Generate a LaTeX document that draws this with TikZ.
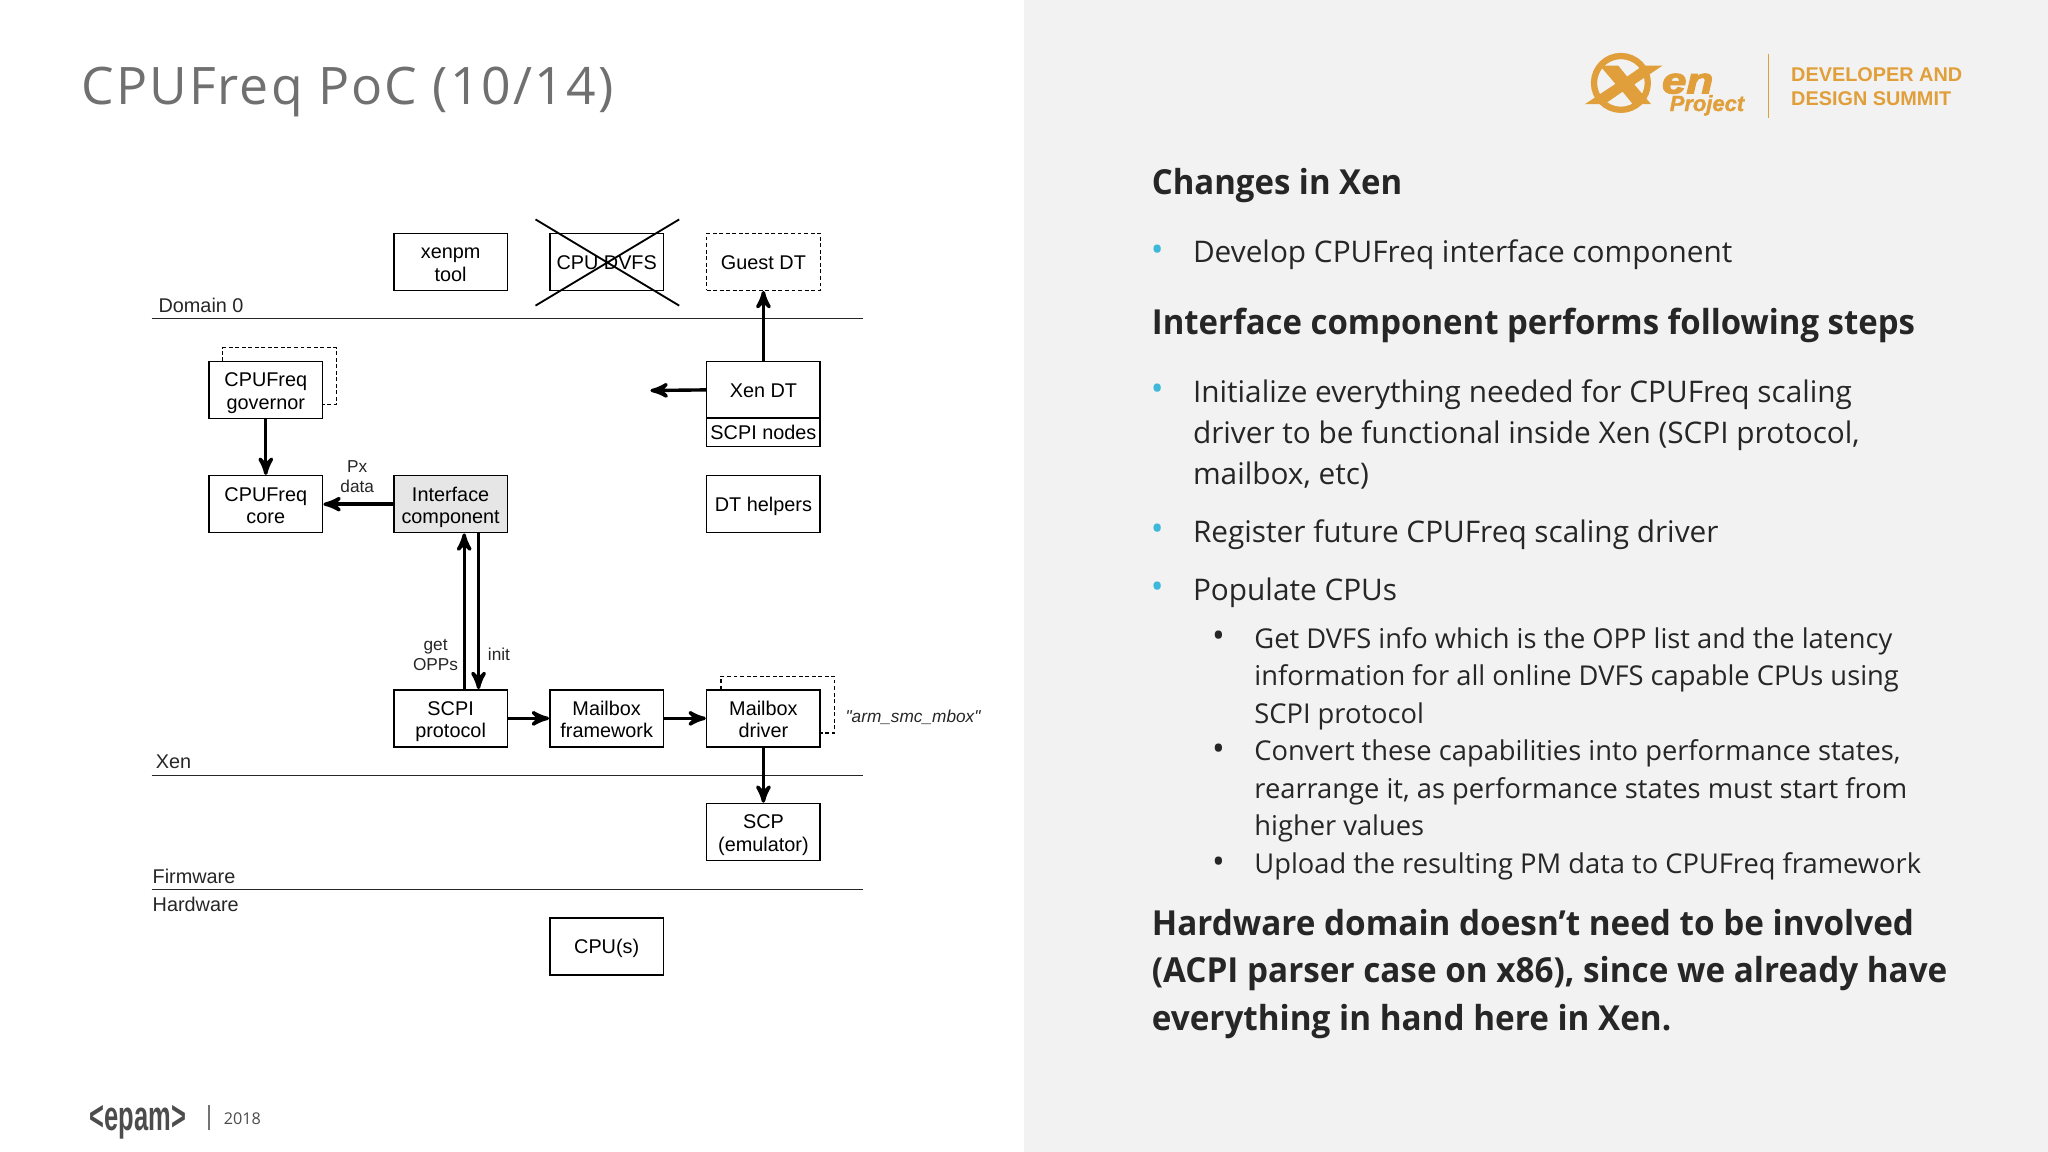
\documentclass[tikz,border=0pt]{standalone}
\usepackage{fontspec}
\setmainfont{Open Sans}
\newfontfamily\arialfont{Liberation Sans}
\usepackage{xcolor}
\usetikzlibrary{arrows}
\definecolor{panelbg}{HTML}{F3F2F2}
\definecolor{xenorange}{HTML}{E09F3A}
\definecolor{bulletblue}{HTML}{3DB8D8}
\definecolor{bodytext}{HTML}{262626}
\definecolor{ifacegray}{HTML}{E6E6E6}

\begin{document}
\begin{tikzpicture}[x=0.5pt,y=-0.5pt,
                    blk/.style={draw=black,fill=white,line width=0.6pt,
                    minimum width=43.5pt,minimum height=21.8pt,
                    inner sep=0pt,align=center,
                    text height=5.8pt,text depth=0pt,
                    font=\arialfont\fontsize{7.6}{8.6}\selectfont},
                    two/.style={text height=16.4pt,text depth=1.6pt},
                    dashblk/.style={blk,dash pattern=on 1.5pt off 1pt,line width=0.5pt},
                    arr/.style={-stealth',line width=1.3pt},
                    sep/.style={line width=0.5pt,draw=black!85},
                    lbl/.style={inner sep=0pt,anchor=base west,text=black!85,
                    font=\arialfont\fontsize{7.6}{8.6}\selectfont},
                    note/.style={inner sep=0pt,align=center,text=black!85,
                    font=\arialfont\fontsize{6.6}{7.6}\selectfont},
                    head/.style={inner sep=0pt,anchor=base west,text=bodytext,align=left,
                    xscale=0.955,transform shape,
                    font=\bfseries\fontsize{13.2}{18.25}\selectfont},
                    body/.style={inner sep=0pt,anchor=base west,text=bodytext,align=left,
                    font=\fontsize{11.4}{15.75}\selectfont},
                    sub/.style={inner sep=0pt,anchor=base west,text=bodytext,align=left,
                    font=\fontsize{10.45}{14.45}\selectfont},
                    dot/.style={inner sep=0pt,anchor=base,font=\fontsize{13}{14}\selectfont},
                    logotxt/.style={inner sep=0pt,text=xenorange,
                    font=\arialfont\bfseries\fontsize{7.6}{9}\selectfont}]
    \useasboundingbox (0,0) rectangle (1568,882);
    \fill[panelbg] (784,0) rectangle (1568,882);

    \node[inner sep=0pt,anchor=base west,text=black!56] (title) at (62,80)
        {\fontsize{19.8}{24}\selectfont\addfontfeature{LetterSpace=4}CPUFreq PoC (10/14)};

    % dashed boxes go first, the others cover them
    \node[dashblk] (govback) at (214,288) {};
    \node[dashblk] (mbback) at (595.5,539.5) {};

    \node[blk,two] (xenpm) at (345,200.5) {xenpm\\tool};
    \node[blk] (dvfs) at (464.5,200.5) {CPU DVFS};
    \node[dashblk] (guest) at (584.5,200.5) {Guest DT};
    \node[blk,two] (gov) at (203.5,298.5) {CPUFreq\\governor};
    \node[blk,two] (core) at (203.5,386) {CPUFreq\\core};
    \node[blk,two,fill=ifacegray] (iface) at (345,386) {Interface\\component};
    \node[blk] (xendt) at (584.5,298.5) {Xen DT};
    \node[blk,minimum height=11pt] (nodes) at (584.5,331) {SCPI nodes};
    \node[blk] (helpers) at (584.5,386) {DT helpers};
    \node[blk,two] (scpi) at (345,550) {SCPI\\protocol};
    \node[blk,two] (mbfw) at (464.5,550) {Mailbox\\framework};
    \node[blk,two] (mbdrv) at (584.5,550) {Mailbox\\driver};
    \node[blk,two] (scp) at (584.5,637) {SCP\\(emulator)};
    \node[blk] (cpus) at (464.5,724.5) {CPU(s)};

    \coordinate (crossa) at (410,168);
    \coordinate (crossb) at (520,234);
    \coordinate (crossc) at (520,168);
    \coordinate (crossd) at (410,234);
    \draw[line width=0.7pt] (crossa) -- (crossb) (crossc) -- (crossd);

    \coordinate (domleft) at (116,244);
    \coordinate (domright) at (661,244);
    \coordinate (xenleft) at (116,593.5);
    \coordinate (xenright) at (661,593.5);
    \coordinate (fwleft) at (116,681);
    \coordinate (fwright) at (661,681);
    \draw[sep] (domleft) -- (domright);
    \draw[sep] (xenleft) -- (xenright);
    \draw[sep] (fwleft) -- (fwright);

    \node[lbl] (domlbl) at (121,239.5) {Domain 0};
    \node[lbl] (xenlbl) at (119,588.5) {Xen};
    \node[lbl] (fwlbl) at (116.5,676.5) {Firmware};
    \node[lbl] (hwlbl) at (116.5,697.5) {Hardware};

    \coordinate (dtend) at (498,299);
    \draw[arr] (xendt.west) -- (dtend);
    \draw[arr] (xendt.north) -- (guest.south);
    \draw[arr] (gov.south) -- (core.north);
    \draw[arr] (iface.west) -- (core.east);
    \draw[arr] ([xshift=5.2pt]scpi.north) -- ([xshift=5.2pt]iface.south);
    \draw[arr] ([xshift=10.7pt]iface.south) -- ([xshift=10.7pt]scpi.north);
    \draw[arr] (scpi.east) -- (mbfw.west);
    \draw[arr] (mbfw.east) -- (mbdrv.west);
    \draw[arr] (mbdrv.south) -- (scp.north);

    \node[note] (pxlbl) at (273.5,365) {Px\\data};
    \node[note] (opplbl) at (333.5,501.5) {get\\OPPs};
    \node[note] (initlbl) at (382,501) {init};
    \node[note,font=\arialfont\itshape\fontsize{6.6}{7.6}\selectfont] (mboxlbl) at (699,549) {"arm\_smc\_mbox"};

    % logo
    \draw[xenorange,line width=2.4pt] (1241,63.5) circle (20.6);
    \node[logotxt,xscale=1.7,transform shape,font=\arialfont\bfseries\itshape\fontsize{20}{20}\selectfont\addfontfeature{FakeBold=5}] (logox) at (1243,65) {X};
    \node[logotxt,anchor=base west,xscale=1.2,transform shape,font=\arialfont\bfseries\itshape\fontsize{14}{14}\selectfont\addfontfeature{FakeBold=3}] (logoen) at (1272,71.5) {en};
    \node[logotxt,anchor=base west,font=\arialfont\bfseries\itshape\fontsize{8.4}{9}\selectfont\addfontfeature{FakeBold=1.5}] (logoprj) at (1278,85) {Project};
    \coordinate (logotop) at (1354,41);
    \coordinate (logobot) at (1354,90);
    \draw[xenorange,line width=0.6pt] (logotop) -- (logobot);
    \node[logotxt,anchor=base west] (dev) at (1371,62.5) {DEVELOPER AND};
    \node[logotxt,anchor=base west] (summit) at (1371,80.5) {DESIGN SUMMIT};

    % right column, multi-line nodes sit on their last line
    \node[head] (chg) at (881.5,149) {Changes in Xen};
    \node[dot,text=bulletblue] (b1) at (886,200) {•};
    \node[body] (t1) at (913,201) {Develop CPUFreq interface component};
    \node[head] (ifc) at (881.5,256) {Interface component performs following steps};
    \node[dot,text=bulletblue] (b2) at (886,307) {•};
    \node[body] (t2) at (913,371) {Initialize everything needed for CPUFreq scaling\\driver to be functional inside Xen (SCPI protocol,\\mailbox, etc)};
    \node[dot,text=bulletblue] (b3) at (886,414) {•};
    \node[body] (t3) at (913,415.5) {Register future CPUFreq scaling driver};
    \node[dot,text=bulletblue] (b4) at (886,458) {•};
    \node[body] (t4) at (913,459.5) {Populate CPUs};
    \node[dot,text=bodytext] (s1) at (933,496) {•};
    \node[sub] (u1) at (960,554) {Get DVFS info which is the OPP list and the latency\\information for all online DVFS capable CPUs using\\SCPI protocol};
    \node[dot,text=bodytext] (s2) at (933,582) {•};
    \node[sub] (u2) at (960,640) {Convert these capabilities into performance states,\\rearrange it, as performance states must start from\\higher values};
    \node[dot,text=bodytext] (s3) at (933,669) {•};
    \node[sub] (u3) at (960,669) {Upload the resulting PM data to CPUFreq framework};
    \node[head,xscale=1.01] (hwd) at (881.5,789) {Hardware domain doesn't need to be involved\\(ACPI parser case on x86), since we already have\\everything in hand here in Xen.};

    % footer
    \node[inner sep=0pt,text=black!70,xscale=0.61,transform shape,font=\arialfont\bfseries\fontsize{16}{16}\selectfont] (epam) at (105.5,859) {<epam>};
    \coordinate (foottop) at (160,846);
    \coordinate (footbot) at (160,865);
    \draw[black!55,line width=0.4pt] (foottop) -- (footbot);
    \node[inner sep=0pt,text=black!70,font=\fontsize{6.2}{7}\selectfont] (year) at (185.5,856.5) {2018};
\end{tikzpicture}
\end{document}
